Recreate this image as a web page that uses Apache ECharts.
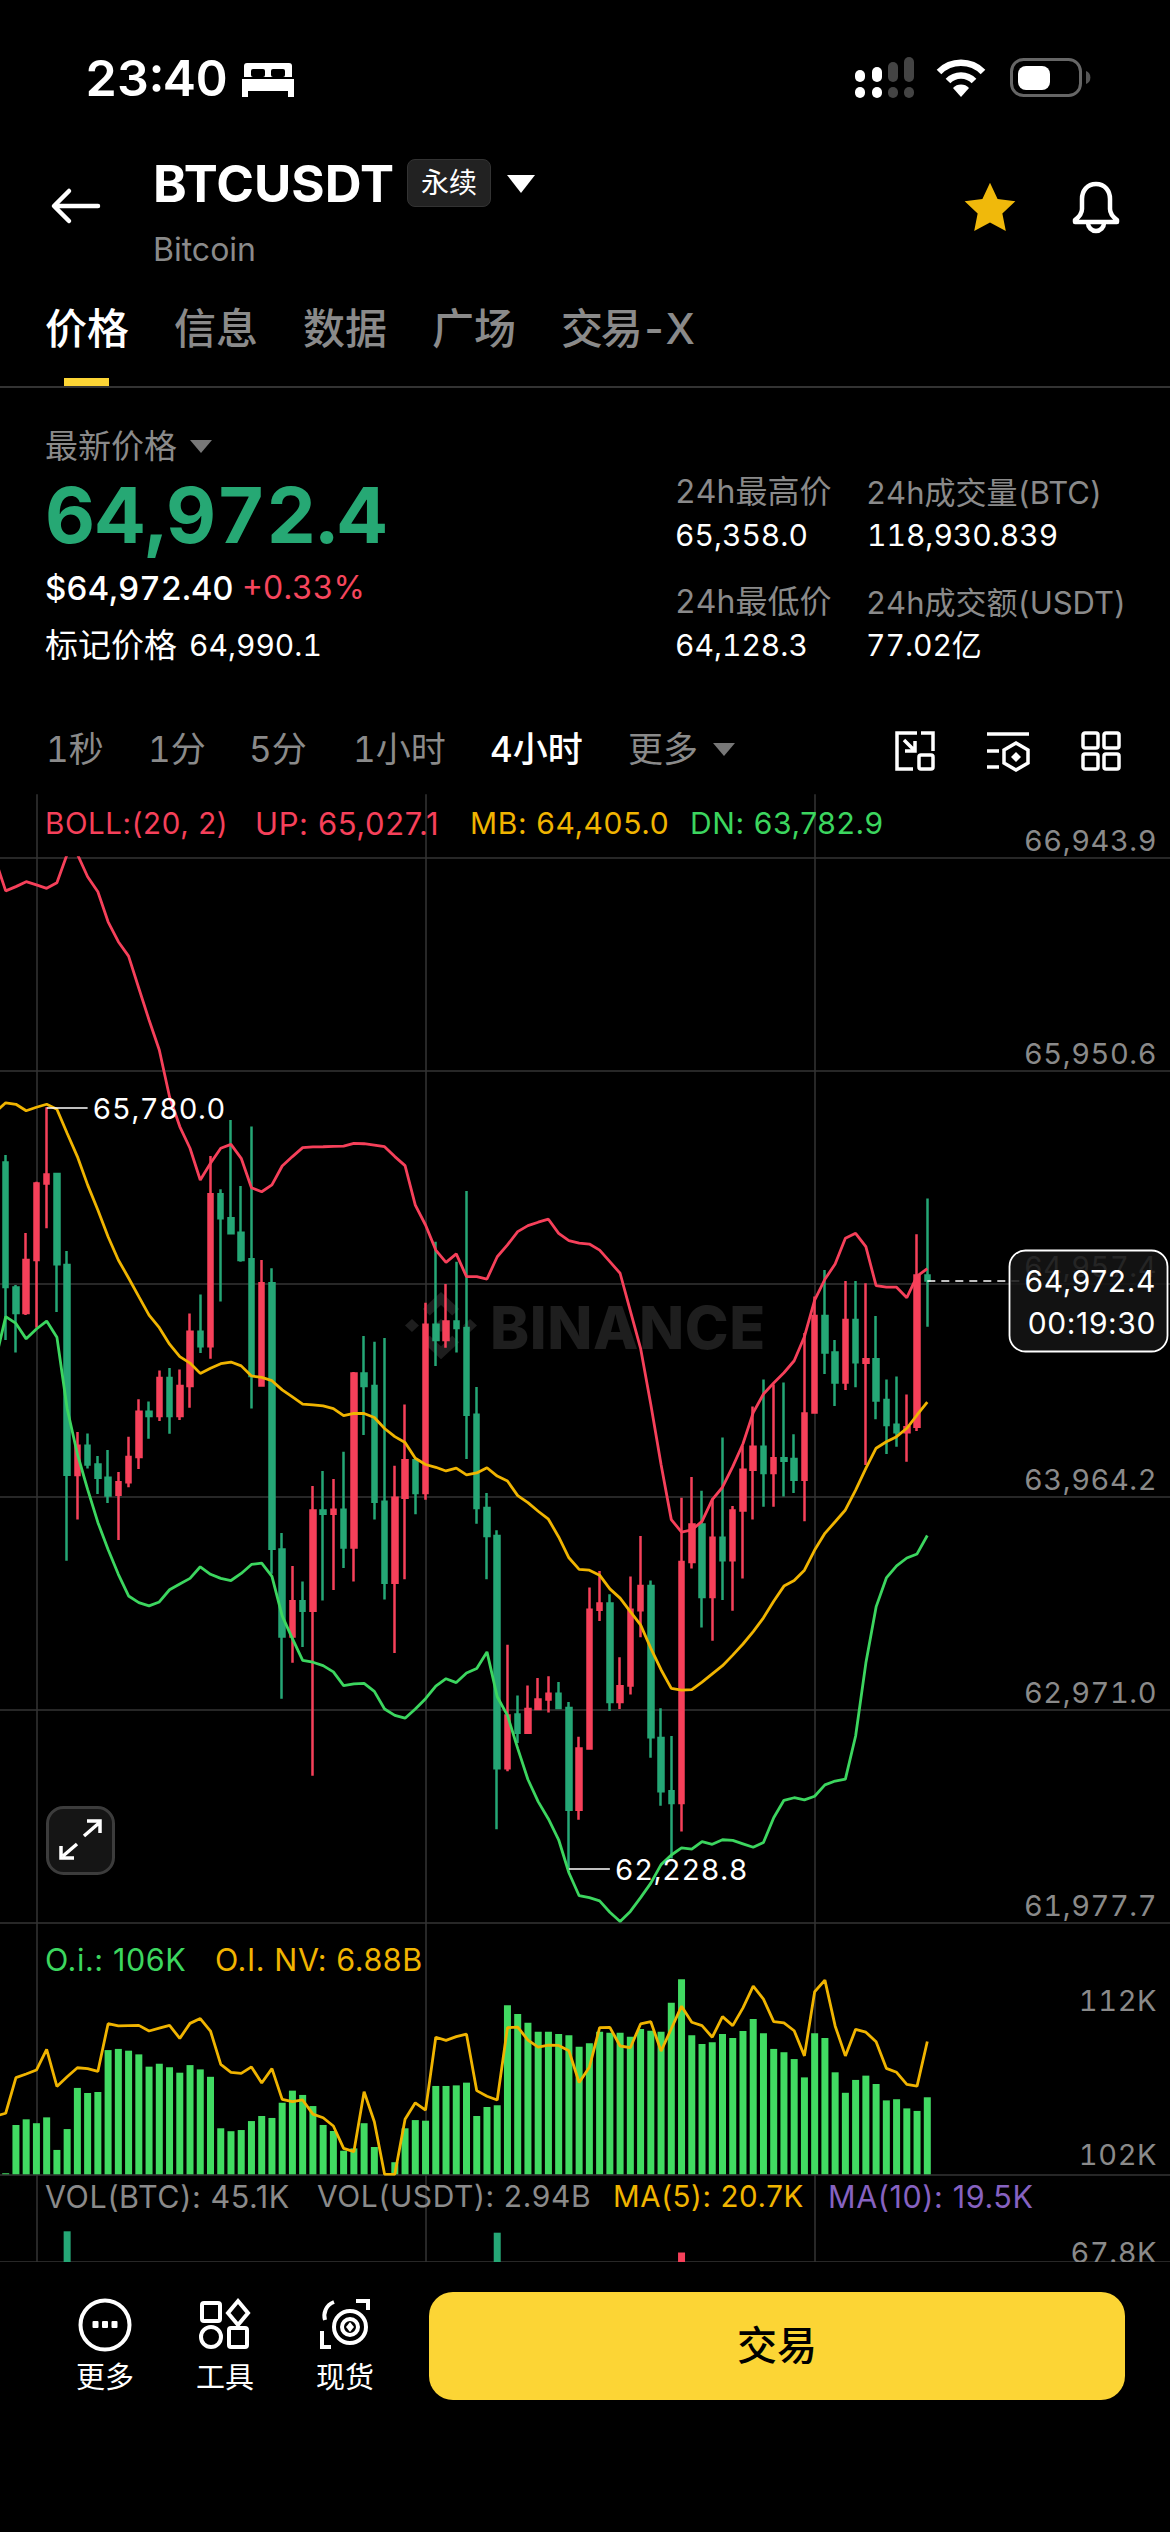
<!DOCTYPE html>
<html><head><meta charset="utf-8">
<script src="https://cdn.jsdelivr.net/npm/echarts@6/dist/echarts.min.js"></script>
<style>
html,body{margin:0;padding:0;background:#000;width:1170px;height:2532px;overflow:hidden;font-family:Inter,"Noto Sans CJK SC",sans-serif;font-variant-numeric:tabular-nums;}
#chart{position:absolute;left:0;top:0;width:1170px;height:2532px;}
#chart text{font-variant-numeric:tabular-nums;letter-spacing:0.6px;}
.t{position:absolute;white-space:nowrap;line-height:1;transform:translateY(-50%);color:#fff;}
.g{color:#8a8a8a;}
svg{position:absolute;overflow:visible;}
#bottom{position:absolute;left:0;top:2262px;width:1170px;height:270px;background:#000;}
#btn{position:absolute;left:429px;top:2292px;width:696px;height:108px;background:#FCD535;border-radius:24px;color:#000;font-size:40px;font-weight:500;text-align:center;line-height:108px;}
</style></head><body>
<div id="chart"></div>

<div class="t" style="left:85px;top:78px;font-size:50px;font-weight:600;">23:40</div>
<svg style="left:242px;top:61px" width="52" height="36" viewBox="0 0 52 36"><path d="M5 2h42a3 3 0 0 1 3 3v11H2V5a3 3 0 0 1 3-3z" fill="#fff"/><rect x="9" y="8" width="14" height="8" rx="2" fill="#000"/><rect x="29" y="8" width="14" height="8" rx="2" fill="#000"/><path d="M0 18h52v18h-6v-6H6v6H0z" fill="#fff"/></svg>
<svg style="left:0;top:0" width="1170" height="110">
<g fill="#fff"><rect x="855" y="70" width="10" height="12" rx="5"/><rect x="872" y="67" width="10" height="15" rx="5"/><rect x="855" y="87" width="10" height="11" rx="5"/><rect x="872" y="87" width="10" height="11" rx="5"/></g>
<g fill="#444"><rect x="888" y="62" width="10" height="20" rx="5"/><rect x="904" y="57" width="10" height="25" rx="5"/><rect x="888" y="87" width="10" height="11" rx="5"/><rect x="904" y="87" width="10" height="11" rx="5"/></g>
<g fill="none" stroke="#fff" stroke-width="6.5"><path d="M939 72a31 31 0 0 1 44 0"/><path d="M948 81a18 18 0 0 1 26 0"/></g><path d="M953 88a11 11 0 0 1 16 0l-8 9z" fill="#fff"/>
<rect x="1011.5" y="59.5" width="69" height="36" rx="12" fill="none" stroke="#666" stroke-width="3"/><rect x="1018" y="66" width="32" height="24" rx="8" fill="#fff"/><path d="M1086 71a7 7 0 0 1 0 13z" fill="#555"/>
</svg>

<svg style="left:50px;top:188px" width="50" height="36" viewBox="0 0 50 36"><path d="M48 18H5M19 3 4 18l15 15" fill="none" stroke="#fff" stroke-width="4.5" stroke-linecap="round" stroke-linejoin="round"/></svg>
<div class="t" style="left:153px;top:183px;font-size:51px;font-weight:700;">BTCUSDT</div>
<div style="position:absolute;left:407px;top:159px;width:84px;height:48px;background:#222;border-radius:8px;border:1px solid #333;box-sizing:border-box;color:#fff;font-size:28px;line-height:46px;text-align:center;">永续</div>
<svg style="left:507px;top:175px" width="28" height="18"><path d="M0 0h28L14 18z" fill="#fff"/></svg>
<div class="t g" style="left:153px;top:250px;font-size:32px;">Bitcoin</div>
<svg style="left:964px;top:181px" width="52" height="52" viewBox="0 0 24 24"><path d="M12 .8l3.5 7.5 8.2 1-6 5.7 1.6 8.1-7.3-4-7.3 4 1.6-8.1-6-5.7 8.2-1z" fill="#F0B90B"/></svg>
<svg style="left:1071px;top:181px" width="50" height="52" viewBox="0 0 50 52"><path d="M25 3c-9 0-14 7-14 15v10c0 4-3 8-7 11v2h42v-2c-4-3-7-7-7-11V18c0-8-5-15-14-15z" fill="none" stroke="#fff" stroke-width="4.5" stroke-linejoin="round"/><path d="M17 42a8 8 0 0 0 16 0" fill="none" stroke="#fff" stroke-width="4.5"/></svg>

<div class="t" style="left:45px;top:329px;font-size:42px;font-weight:500;">价格</div>
<div class="t g" style="left:174px;top:329px;font-size:42px;font-weight:500;">信息</div>
<div class="t g" style="left:303px;top:329px;font-size:42px;font-weight:500;">数据</div>
<div class="t g" style="left:432px;top:329px;font-size:42px;font-weight:500;">广场</div>
<div class="t g" style="left:561px;top:329px;font-size:42px;font-weight:500;letter-spacing:-2.2px;">交易-X</div>
<div style="position:absolute;left:64px;top:378px;width:45px;height:8px;background:#FCD535;"></div>
<div style="position:absolute;left:0;top:386px;width:1170px;height:1.5px;background:#333;"></div>

<div class="t g" style="left:45px;top:446px;font-size:33px;">最新价格</div>
<svg style="left:190px;top:440px" width="22" height="13"><path d="M0 0h22L11 13z" fill="#777"/></svg>
<div class="t" style="left:45px;top:516px;font-size:77.5px;font-weight:700;color:#26A874;">64,972.4</div>
<div class="t" style="left:45px;top:588px;font-size:33px;font-weight:500;">$64,972.40</div>
<div class="t" style="left:242px;top:588px;font-size:32px;color:#F6465D;">+0.33%</div>
<div class="t" style="left:45px;top:645px;font-size:33px;">标记价格</div>
<div class="t" style="left:189px;top:645px;font-size:30px;">64,990.1</div>

<div class="t g" style="left:675px;top:492px;font-size:32px;">24h最高价</div>
<div class="t" style="left:675px;top:535px;font-size:30px;">65,358.0</div>
<div class="t g" style="left:866px;top:492px;font-size:31px;">24h成交量(BTC)</div>
<div class="t" style="left:867px;top:535px;font-size:30px;">118,930.839</div>
<div class="t g" style="left:675px;top:602px;font-size:32px;">24h最低价</div>
<div class="t" style="left:675px;top:645px;font-size:30px;">64,128.3</div>
<div class="t g" style="left:866px;top:602px;font-size:31px;">24h成交额(USDT)</div>
<div class="t" style="left:866px;top:645px;font-size:30px;">77.02亿</div>

<div class="t g" style="left:46px;top:749px;font-size:35px;">1秒</div>
<div class="t g" style="left:148px;top:749px;font-size:35px;">1分</div>
<div class="t g" style="left:249px;top:749px;font-size:35px;">5分</div>
<div class="t g" style="left:353px;top:749px;font-size:35px;">1小时</div>
<div class="t" style="left:490px;top:749px;font-size:35px;font-weight:500;">4小时</div>
<div class="t g" style="left:628px;top:749px;font-size:35px;">更多</div>
<svg style="left:713px;top:743px" width="22" height="13"><path d="M0 0h22L11 13z" fill="#777"/></svg>
<svg style="left:895px;top:731px" width="40" height="40" fill="none" stroke="#fff" stroke-width="3.5"><path d="M22 2H2v36h16M38 20V2H26"/><rect x="24" y="24" width="14" height="14" rx="2"/><path d="M9 9l11 11M10 20h10V10"/></svg>
<svg style="left:987px;top:731px" width="44" height="40" fill="none" stroke="#fff" stroke-width="3.5"><path d="M0 3h42M0 20h12M0 36h12"/><path d="M29 12l12 7v13l-12 7-12-7V19z"/><path d="M29 21l5 5-5 5-5-5z" fill="#fff" stroke="none"/></svg>
<svg style="left:1081px;top:731px" width="40" height="40" fill="none" stroke="#fff" stroke-width="3.5"><rect x="2" y="2" width="15" height="15" rx="2"/><rect x="23" y="2" width="15" height="15" rx="2"/><rect x="2" y="23" width="15" height="15" rx="2"/><rect x="23" y="23" width="15" height="15" rx="2"/></svg>

<svg style="left:46px;top:1806px" width="70" height="70" viewBox="0 0 70 70"><rect x="1.5" y="1.5" width="66" height="66" rx="16" fill="#151515" stroke="#3c3c3c" stroke-width="3"/><path d="M38 30l15-13M41 15h13v12M31 38L17 50M28 52H15V40" fill="none" stroke="#fff" stroke-width="3.5"/></svg>

<div id="bottom"></div>
<svg style="left:78px;top:2298px" width="54" height="54"><circle cx="27" cy="27" r="24.5" fill="none" stroke="#fff" stroke-width="4"/><g fill="#fff"><rect x="14.5" y="23" width="6" height="7" rx="1"/><rect x="24" y="23" width="6" height="7" rx="1"/><rect x="33.500" y="23" width="6" height="7" rx="1"/></g></svg>
<div class="t" style="left:76px;top:2377px;font-size:29px;">更多</div>
<svg style="left:200px;top:2299px" width="50" height="52" fill="none" stroke="#fff" stroke-width="4"><rect x="2" y="4" width="18" height="18" rx="2"/><path d="M38 2l10 12-10 12-10-12z"/><circle cx="11" cy="38" r="10"/><rect x="29" y="29" width="18" height="19" rx="2"/></svg>
<div class="t" style="left:196px;top:2377px;font-size:29px;">工具</div>
<svg style="left:320px;top:2299px" width="50" height="52" fill="none" stroke="#fff" stroke-width="4"><path d="M14 3C6 6 3 14 5 21M36 2h12v9M2 32v16h9"/><circle cx="30" cy="28" r="16"/><circle cx="30" cy="28" r="8"/><path d="M30 23l4 5-4 5-4-5z" fill="#fff" stroke="none"/></svg>
<div class="t" style="left:316px;top:2377px;font-size:29px;">现货</div>
<div id="btn">交易</div>

<script>
// ---- candle values, one entry per 4h bar; first slot sits just off the left edge ----
const opens = [null,
65523,64940,64821,65068,65425,65469,65044,64065,64201,64114,
64052,63973,64031,64149,64360,64340,64518,64340,64480,64733,
64665,65374,65262,65195,65071,64482,64959,63718,63312,63476,
63432,63900,63884,63903,63727,64539,64480,63940,63563,63959,
64134,63981,64766,64695,64781,64751,64346,63911,63781,62697,
62948,62863,62974,63018,63045,62979,62504,62790,63437,63466,
63006,63083,63434,63547,62839,62590,62535,63659,63834,63496,
63772,63667,63900,64089,64197,64075,64143,64140,64043,64356,
64807,64636,64497,64788,64589,64605,64415,64300,64264,64290,64995];
const closes = [null,
64942,64821,65068,65425,65467,65048,64066,64201,64114,64052,
63969,64031,64149,64360,64340,64518,64340,64480,64733,64665,
65374,65262,65192,65068,64527,64959,63721,63312,63476,63432,
63900,63884,63903,63727,64539,64480,63940,63563,63959,64134,
63981,64766,64695,64781,64751,64346,63911,63781,62697,62944,
62863,62974,63018,63045,62979,62504,62790,63437,63466,63006,
63080,63437,63547,62842,62590,62535,63659,63834,63496,63772,
63667,63900,64089,64197,64075,64143,64131,64043,64352,64807,
64636,64496,64788,64591,64605,64412,64298,64264,64288,64995,64972.4];
const lows = [null,
64695,64636,64811,64752,65216,64825,63665,63857,64095,63976,
63935,63762,64008,64093,64234,64317,64257,64322,64379,64634,
64607,64874,65189,65060,64375,64478,63604,63022,63190,63263,
62662,63480,63529,63631,63569,64252,63857,63484,63235,63579,
63882,63950,64574,64659,64636,64140,63838,63579,62413,62683,
62815,62862,62969,62958,62979,62228.8,62457,62784,63384,62965,
62974,63041,63308,62747,62523,62277,62403,63629,63354,63292,
63482,63432,63583,63857,63917,63917,63965,63981,63849,64356,
64536,64387,64461,64474,64112,64325,64163,64197,64127,64270,64757];
const highs = [null,
65558,64951,65194,65433,65780,65475,65110,64266,64259,64154,
64182,64079,64244,64418,64408,64553,64564,64557,64818,64907,
65553,65398,65721,65413,65690,65068,65029,63795,63641,63569,
64014,64084,64047,64174,64545,64713,64686,64704,64108,64394,
64144,64868,65153,64956,65060,65390,64475,63981,63807,63273,
63037,63083,63118,63126,63100,63006,62844,63540,63617,63509,
63215,63592,63781,63573,62977,62848,63959,64056,63992,63956,
64240,63921,64201,64385,64511,64487,64497,64255,64727,64897,
65021,64695,64970,64970,64959,64807,64511,64524,64441,65188,65355];
// ---- Bollinger bands ----
const bollUp = [66933,
66789,66809,66832,66817,66801,66827,66960,66960,66855,66785,
66645,66552,66485,66335,66187,66047,65829,65690,65589,65441,
65519,65589,65607,65542,65405,65386,65418,65506,65550,65592,
65595,65596,65598,65599,65612,65610,65604,65596,65550,65508,
65324,65231,65114,65057,65096,64990,64990,64979,65083,65138,
65200,65228,65244,65258,65192,65158,65146,65142,65114,65060,
65006,64830,64656,64394,64114,63857,63799,63809,63849,63950,
64008,64104,64211,64356,64443,64494,64542,64598,64710,64881,
64978,65049,65169,65192,65130,64948,64941,64941,64892,64993,65027.1];
const bollMid = [65758,
65801,65794,65764,65780,65794,65771,65659,65550,65418,65301,
65176,65068,64984,64897,64811,64752,64675,64617,64587,64539,
64563,64584,64592,64574,64527,64520,64505,64462,64429,64396,
64392,64387,64375,64342,64352,64352,64333,64282,64244,64217,
64143,64114,64101,64084,64097,64066,64075,64099,64060,64037,
63969,63936,63896,63859,63776,63679,63625,63621,63598,63534,
63491,63428,63366,63257,63157,63070,63062,63064,63099,63138,
63176,63225,63277,63335,63399,63476,63547,63573,63621,63715,
63793,63847,63902,63995,64096,64190,64220,64244,64283,64345,64405.0];
const bollDn = [64601,
64804,64772,64700,64746,64783,64708,64375,64163,63998,63844,
63718,63602,63501,63470,63455,63473,63530,63557,63583,63637,
63602,63583,63573,63606,63648,63654,63592,63408,63302,63201,
63192,63176,63147,63083,63091,63093,63056,62974,62944,62931,
62974,63022,63080,63115,63097,63142,63163,63240,63031,62944,
62790,62645,62542,62461,62364,62210,62103,62094,62079,62026,
61983,62030,62094,62162,62248,62293,62326,62320,62355,62343,
62364,62361,62345,62329,62351,62467,62548,62560,62550,62567,
62620,62638,62647,62848,63188,63450,63585,63641,63678,63697,63782.9];
// ---- open interest (thousand BTC) and its notional value (billion USDT) ----
const openInterest = [null,
102.05,104.53,104.82,104.62,104.92,103.25,104.32,106.43,106.17,106.22,
108.37,108.43,108.34,108.15,107.52,107.67,107.49,107.21,107.60,107.38,
107.00,104.36,104.21,104.27,104.73,104.99,104.89,105.67,106.29,106.07,
105.50,104.53,104.22,103.21,103.33,104.62,103.40,102.00,102.62,104.36,
104.78,104.75,106.53,106.53,106.56,106.70,104.99,105.45,105.54,110.67,
110.22,109.77,109.31,109.31,109.19,109.13,108.54,108.72,109.31,109.26,
109.26,109.06,109.45,109.36,109.31,110.80,112.00,109.13,108.68,108.77,
109.19,108.99,109.35,109.96,109.23,108.43,108.26,107.91,106.97,109.23,
108.99,107.23,106.18,106.84,107.06,106.63,105.79,105.85,105.38,105.25,105.95];
const oiNotional = [6.616,
6.626,6.752,6.765,6.779,6.852,6.721,6.755,6.787,6.784,6.774,
6.943,6.935,6.936,6.937,6.917,6.927,6.937,6.891,6.944,6.961,
6.917,6.799,6.771,6.767,6.790,6.733,6.784,6.675,6.667,6.673,
6.623,6.610,6.581,6.502,6.490,6.702,6.596,6.410,6.410,6.605,
6.663,6.637,6.895,6.884,6.897,6.906,6.706,6.686,6.673,6.929,
6.931,6.885,6.860,6.867,6.866,6.847,6.735,6.789,6.929,6.930,
6.864,6.858,6.942,6.950,6.846,6.925,7.005,6.948,6.936,6.895,
6.968,6.936,6.999,7.076,7.030,6.950,6.946,6.918,6.829,7.056,
7.097,6.935,6.829,6.923,6.913,6.879,6.785,6.771,6.728,6.722,6.88];
// ---- volume pane: only these three bars rise above the fold (thousand BTC) ----
const volumeTops = {7:67.8, 49:67.3, 67:60.2};
// ---- tick labels ----
const priceTicks = [61977.7,62971.0,63964.2,64957.4,65950.6,66943.9];
const oiTicks = [102,112];
const volTicks = [67.8];
const highMark = {slot:5, value:65780.0}, lowMark = {slot:56, value:62228.8}, lastPrice = 64972.4;
const verticalLineSlots = [4,42,80];
const slotCount = 116;
const categories = Array.from({length:slotCount},(_,i)=>'bar'+i);

const RED='#F6405A', GREEN='#25A776', ORANGE='#F0B400', LIME='#3CD65F', BAR='#41DA62', GRID='#343434', AXIS='#8a8a8a';
const FONT='Inter, "Noto Sans CJK SC", sans-serif';
const fmtPrice=v=>Number(v).toLocaleString('en-US',{minimumFractionDigits:1,maximumFractionDigits:1});
const candleRows=opens.map((o,i)=>o===null?['-','-','-','-']:[o,closes[i],lows[i],highs[i]]);
const volumes=opens.map((o,i)=>volumeTops[i]===undefined?null:{value:volumeTops[i],itemStyle:{color:closes[i]>=o?RED:GREEN}});

const bandW=10.24, gridLeft=-9.66, gridW=bandW*slotCount;
const hiddenX=(gridIndex,extra)=>Object.assign({type:'category',gridIndex,data:categories,axisLabel:{show:false},axisTick:{show:false},axisLine:{show:false},splitLine:{show:false}},extra||{});

const labelBase={inside:true,margin:21,color:AXIS,fontSize:29,fontFamily:FONT};
const gridBase={outerBoundsMode:'none',containLabel:false};
const legendText=(t,x,y,c,size)=>({type:'text',x,y,z:50,silent:true,style:{text:t,fill:c,font:'400 '+size+'px '+FONT,verticalAlign:'middle'}});

const option={
  backgroundColor:'#000',animation:false,
  grid:[
    Object.assign({left:gridLeft+bandW/2,width:bandW*(slotCount-1),top:794.3,height:1467.7,z:0},gridBase),
    Object.assign({left:gridLeft,width:gridW,top:857.7,height:1064.9},gridBase),
    Object.assign({left:gridLeft,width:gridW,top:1979.3,height:195},gridBase),
    Object.assign({left:gridLeft,width:gridW,top:2231.3,height:30.7},gridBase)
  ],
  xAxis:[
    hiddenX(0,{boundaryGap:false,position:'top',axisLine:{show:true,lineStyle:{color:GRID,width:1.5}},
      splitLine:{show:true,interval:i=>verticalLineSlots.includes(i),lineStyle:{color:GRID,width:1.5}}}),
    hiddenX(1),
    hiddenX(2,{axisLine:{show:true,onZero:false,lineStyle:{color:GRID,width:1.5}}}),
    hiddenX(3)
  ],
  yAxis:[
    {type:'value',gridIndex:0,min:0,max:1,show:false},
    {type:'value',gridIndex:1,position:'right',scale:true,min:priceTicks[0],max:priceTicks[5],
      axisLine:{show:false},axisTick:{show:false,customValues:priceTicks},
      splitLine:{show:true,lineStyle:{color:GRID,width:1.5}},
      axisLabel:Object.assign({},labelBase,{customValues:priceTicks,verticalAlign:'bottom',padding:[0,0,3,0],formatter:fmtPrice})},
    {type:'value',gridIndex:2,position:'right',scale:true,min:oiTicks[0],max:oiTicks[1],
      axisLine:{show:false},axisTick:{show:false,customValues:oiTicks},splitLine:{show:false},
      axisLabel:Object.assign({},labelBase,{customValues:oiTicks,verticalAlignMinLabel:'bottom',verticalAlignMaxLabel:'top',padding:[7,0,5,0],formatter:v=>v+'K'})},
    {type:'value',gridIndex:2,position:'right',scale:true,min:6.41,max:7.1,show:false,splitLine:{show:false}},
    {type:'value',gridIndex:3,position:'right',scale:true,min:56.8,max:volTicks[0],
      axisLine:{show:false},axisTick:{show:false,customValues:volTicks},splitLine:{show:false},
      axisLabel:Object.assign({},labelBase,{customValues:volTicks,verticalAlign:'top',padding:[7,0,0,0],formatter:v=>v.toFixed(1)+'K'})}
  ],
  graphic:[
    {type:'group',x:441,y:1325.6,scaleX:2.25,scaleY:2.1,z:1,silent:true,children:[
      [[0,-16],[8.1,-7.9],[5,-4.8],[0,-9.8],[-5,-4.8],[-8.1,-7.9]],
      [[0,16],[8.1,7.9],[5,4.8],[0,9.8],[-5,4.8],[-8.1,7.9]],
      [[-16,0],[-12.9,-3.1],[-9.8,0],[-12.9,3.1]],
      [[16,0],[12.9,-3.1],[9.8,0],[12.9,3.1]],
      [[0,-3.1],[3.1,0],[0,3.1],[-3.1,0]]
    ].map(p=>({type:'polygon',shape:{points:p},style:{fill:'#1e1e1e'},z:1}))},
    {type:'text',x:490,y:1327,z:1,silent:true,style:{text:'BINANCE',fill:'#1e1e1e',font:'800 59px '+FONT,verticalAlign:'middle'}},
    legendText('BOLL:(20, 2)',45,823,RED,29.5),legendText('UP: 65,027.1',255,823,RED,31),legendText('MB: 64,405.0',470,823,ORANGE,30),legendText('DN: 63,782.9',690,823,LIME,30),
    legendText('O.i.: 106K',45,1959,LIME,30.5),legendText('O.I. NV: 6.88B',215,1959,ORANGE,30.5),
    legendText('VOL(BTC): 45.1K',45,2196,AXIS,30.5),legendText('VOL(USDT): 2.94B',317,2196,AXIS,30),legendText('MA(5): 20.7K',613,2196,ORANGE,29.5),legendText('MA(10): 19.5K',828,2196,'#8662C0',30.5),
    {type:'rect',z:60,silent:true,shape:{x:1009.5,y:1250.5,width:158,height:101,r:16},style:{fill:'rgba(21,21,21,0.86)',stroke:'#fff',lineWidth:1.8}},
    {type:'text',z:61,silent:true,x:1156,y:1281,style:{text:'64,972.4',fill:'#fff',font:'400 30px '+FONT,align:'right',verticalAlign:'middle'}},
    {type:'text',z:61,silent:true,x:1156,y:1323,style:{text:'00:19:30',fill:'#fff',font:'400 30px '+FONT,align:'right',verticalAlign:'middle'}}
  ],
  series:[
    {type:'candlestick',xAxisIndex:1,yAxisIndex:1,data:candleRows,barWidth:5,z:3,
      itemStyle:{color:RED,color0:GREEN,borderColor:RED,borderColor0:GREEN,borderWidth:2.5},
      markLine:{silent:true,symbol:'none',animation:false,label:{show:false},data:[
        [{coord:[highMark.slot,highMark.value],lineStyle:{color:'#fff',width:1.5,type:'solid'}},{coord:[highMark.slot+4,highMark.value]}],
        [{coord:[lowMark.slot,lowMark.value],lineStyle:{color:'#fff',width:1.5,type:'solid'}},{coord:[lowMark.slot+4,lowMark.value]}],
        [{coord:[opens.length-1,lastPrice],lineStyle:{color:'#fff',width:1.5,type:[8,6]}},{coord:[opens.length+8,lastPrice]}]
      ]},
      markPoint:{silent:true,animation:false,symbol:'circle',symbolSize:0,data:[highMark,lowMark].map(m=>({coord:[m.slot+4,m.value],
        label:{show:true,position:'right',distance:5,offset:[0,1],formatter:fmtPrice(m.value),color:'#fff',fontSize:29,fontFamily:FONT}}))}},
    {type:'line',xAxisIndex:1,yAxisIndex:1,data:bollUp,symbol:'none',z:4,lineStyle:{color:RED,width:2.8}},
    {type:'line',xAxisIndex:1,yAxisIndex:1,data:bollMid,symbol:'none',z:4,lineStyle:{color:ORANGE,width:2.8}},
    {type:'line',xAxisIndex:1,yAxisIndex:1,data:bollDn,symbol:'none',z:4,lineStyle:{color:LIME,width:2.8}},
    {type:'bar',xAxisIndex:2,yAxisIndex:2,data:openInterest,barWidth:7,z:3,itemStyle:{color:BAR}},
    {type:'line',xAxisIndex:2,yAxisIndex:3,data:oiNotional,symbol:'none',z:4,lineStyle:{color:ORANGE,width:2.8}},
    {type:'bar',xAxisIndex:3,yAxisIndex:4,data:volumes,barWidth:7,z:3}
  ]
};
const chart=echarts.init(document.getElementById('chart'),null,{renderer:'svg',width:1170,height:2532});
chart.setOption(option);
</script>
</body></html>
